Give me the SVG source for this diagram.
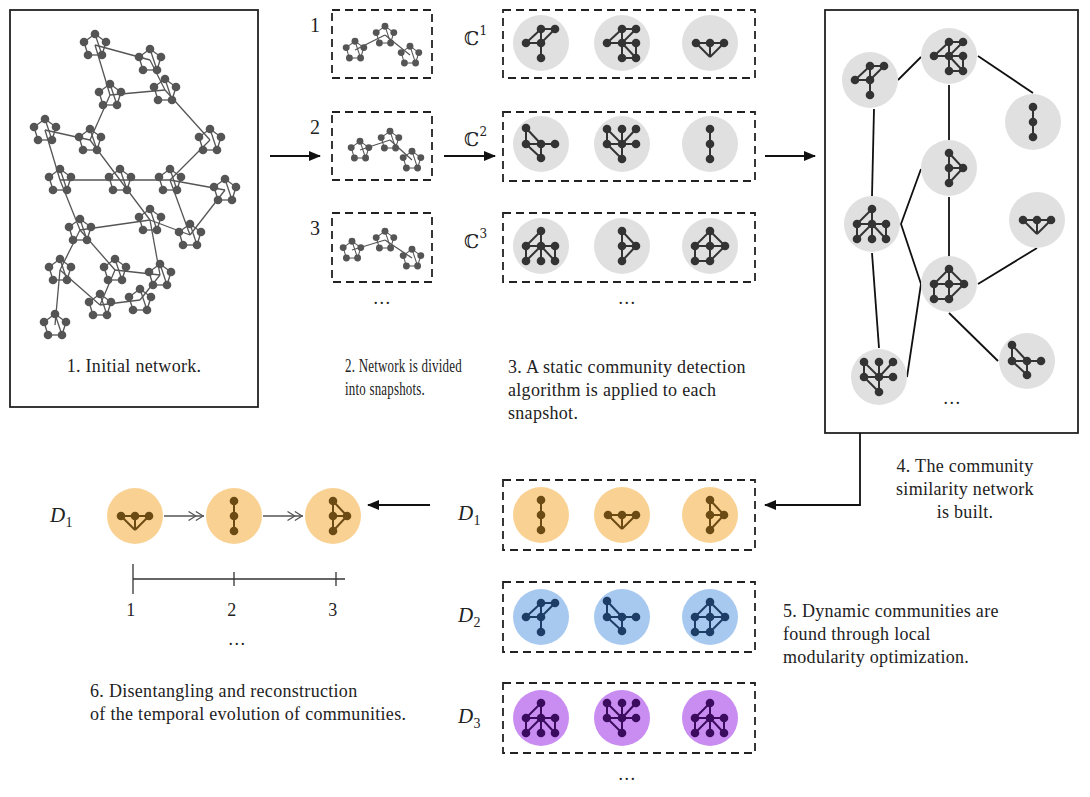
<svg xmlns="http://www.w3.org/2000/svg" xmlns:xlink="http://www.w3.org/1999/xlink" width="1090" height="797" viewBox="0 0 1090 797">
<style>
text{font-family:"Liberation Serif",serif;font-size:18px;letter-spacing:0.3px;fill:#222}
.lab{font-size:21px;font-style:italic}
.big{font-size:20px}
.cc{font-family:"DejaVu Serif",serif;font-size:19px}
.box{fill:none;stroke:#222;stroke-width:1.8}
.dash{fill:none;stroke:#222;stroke-width:1.8;stroke-dasharray:8 5}
.ln{stroke:#111;stroke-width:1.8;fill:none}
.m line{stroke:currentColor;stroke-width:2}
.m circle{fill:currentColor}
.net line{stroke:#555;stroke-width:1.3}
.net circle{fill:#555}
.g{fill:#e0e0e0}.o{fill:#f9d293}.b{fill:#a7c9ef}.p{fill:#c98df2}
</style>
<defs>
<marker id="ar" viewBox="0 0 10 10" refX="9" refY="5" markerWidth="7" markerHeight="7" orient="auto"><path d="M0,1 L10,5 L0,9 z" fill="#111"/></marker>
<marker id="dbl" viewBox="0 0 20 10" refX="19" refY="5" markerWidth="14" markerHeight="7" orient="auto"><path d="M2,0 L10,5 L2,10 M10,0 L18,5 L10,10" fill="none" stroke="#555" stroke-width="1.3"/></marker>
<g id="mA" class="m"><line x1="0" y1="-14" x2="14" y2="-14"/><line x1="-15" y1="0" x2="0" y2="-14"/><line x1="0" y1="-14" x2="0" y2="15"/><line x1="-15" y1="0" x2="0" y2="0"/><line x1="0" y1="0" x2="14" y2="-14"/><circle cx="0" cy="-14" r="4.3"/><circle cx="14" cy="-14" r="4.3"/><circle cx="-15" cy="0" r="4.3"/><circle cx="0" cy="0" r="4.3"/><circle cx="0" cy="15" r="4.3"/></g>
<g id="mB" class="m"><line x1="0" y1="-14" x2="14" y2="-14"/><line x1="-15" y1="0" x2="0" y2="-14"/><line x1="-15" y1="0" x2="14" y2="0"/><line x1="0" y1="-14" x2="0" y2="15"/><line x1="0" y1="0" x2="14" y2="-14"/><line x1="0" y1="0" x2="14" y2="15"/><line x1="14" y1="0" x2="14" y2="15"/><line x1="0" y1="15" x2="14" y2="15"/><circle cx="0" cy="-14" r="4.3"/><circle cx="14" cy="-14" r="4.3"/><circle cx="-15" cy="0" r="4.3"/><circle cx="0" cy="0" r="4.3"/><circle cx="14" cy="0" r="4.3"/><circle cx="0" cy="15" r="4.3"/><circle cx="14" cy="15" r="4.3"/></g>
<g id="mC" class="m"><line x1="-14" y1="0" x2="14" y2="0"/><line x1="-14" y1="0" x2="0" y2="14"/><line x1="14" y1="0" x2="0" y2="14"/><line x1="0" y1="0" x2="0" y2="14"/><circle cx="-14" cy="0" r="4.3"/><circle cx="0" cy="0" r="4.3"/><circle cx="14" cy="0" r="4.3"/></g>
<g id="mD" class="m"><line x1="-15" y1="-16" x2="-15" y2="0"/><line x1="-15" y1="-16" x2="0" y2="0"/><line x1="-15" y1="0" x2="14" y2="0"/><line x1="0" y1="0" x2="0" y2="14"/><line x1="-15" y1="0" x2="0" y2="14"/><circle cx="-15" cy="-16" r="4.3"/><circle cx="-15" cy="0" r="4.3"/><circle cx="0" cy="0" r="4.3"/><circle cx="14" cy="0" r="4.3"/><circle cx="0" cy="14" r="4.3"/></g>
<g id="mE" class="m"><line x1="-15" y1="-15" x2="-15" y2="0"/><line x1="-15" y1="-15" x2="0" y2="0"/><line x1="0" y1="-15" x2="0" y2="15"/><line x1="14" y1="-15" x2="0" y2="0"/><line x1="-15" y1="0" x2="14" y2="0"/><line x1="-15" y1="0" x2="0" y2="15"/><circle cx="-15" cy="-15" r="4.3"/><circle cx="0" cy="-15" r="4.3"/><circle cx="14" cy="-15" r="4.3"/><circle cx="-15" cy="0" r="4.3"/><circle cx="0" cy="0" r="4.3"/><circle cx="14" cy="0" r="4.3"/><circle cx="0" cy="15" r="4.3"/></g>
<g id="mF" class="m"><line x1="0" y1="-15" x2="0" y2="15"/><circle cx="0" cy="-15" r="4.3"/><circle cx="0" cy="0" r="4.3"/><circle cx="0" cy="15" r="4.3"/></g>
<g id="mG" class="m"><line x1="0" y1="-15" x2="-15" y2="0"/><line x1="0" y1="-15" x2="0" y2="15"/><line x1="-15" y1="0" x2="14" y2="0"/><line x1="-15" y1="0" x2="-15" y2="15"/><line x1="0" y1="0" x2="-15" y2="15"/><line x1="0" y1="0" x2="14" y2="15"/><line x1="14" y1="0" x2="14" y2="15"/><circle cx="0" cy="-15" r="4.3"/><circle cx="-15" cy="0" r="4.3"/><circle cx="0" cy="0" r="4.3"/><circle cx="14" cy="0" r="4.3"/><circle cx="-15" cy="15" r="4.3"/><circle cx="0" cy="15" r="4.3"/><circle cx="14" cy="15" r="4.3"/></g>
<g id="mH" class="m"><line x1="0" y1="-15" x2="0" y2="15"/><line x1="0" y1="-15" x2="14" y2="0"/><line x1="0" y1="0" x2="14" y2="0"/><line x1="0" y1="15" x2="14" y2="0"/><circle cx="0" cy="-15" r="4.3"/><circle cx="0" cy="0" r="4.3"/><circle cx="14" cy="0" r="4.3"/><circle cx="0" cy="15" r="4.3"/></g>
<g id="mI" class="m"><line x1="0" y1="-15" x2="-15" y2="0"/><line x1="0" y1="-15" x2="0" y2="15"/><line x1="0" y1="-15" x2="15" y2="0"/><line x1="-15" y1="0" x2="15" y2="0"/><line x1="-15" y1="0" x2="-15" y2="15"/><line x1="-15" y1="15" x2="0" y2="15"/><line x1="0" y1="15" x2="15" y2="0"/><circle cx="0" cy="-15" r="4.3"/><circle cx="-15" cy="0" r="4.3"/><circle cx="0" cy="0" r="4.3"/><circle cx="15" cy="0" r="4.3"/><circle cx="-15" cy="15" r="4.3"/><circle cx="0" cy="15" r="4.3"/></g>
<g id="k" class="net"><line x1="0" y1="-11" x2="11" y2="-3"/><line x1="11" y1="-3" x2="7" y2="10"/><line x1="7" y1="10" x2="-7" y2="10"/><line x1="-7" y1="10" x2="-11" y2="-3"/><line x1="-11" y1="-3" x2="0" y2="-11"/><line x1="0" y1="-11" x2="7" y2="10"/><circle cx="0" cy="-11" r="4.3"/><circle cx="11" cy="-3" r="4.3"/><circle cx="7" cy="10" r="4.3"/><circle cx="-7" cy="10" r="4.3"/><circle cx="-11" cy="-3" r="4.3"/></g>
</defs>

<g id="step1">
<rect class="box" x="10" y="10" width="248" height="397"/>
<g class="net">
<line x1="95" y1="45" x2="150" y2="60"/><line x1="95" y1="45" x2="110" y2="95"/><line x1="150" y1="60" x2="165" y2="90"/><line x1="110" y1="95" x2="165" y2="90"/><line x1="110" y1="95" x2="90" y2="140"/><line x1="45" y1="130" x2="90" y2="140"/><line x1="165" y1="90" x2="210" y2="140"/><line x1="90" y1="140" x2="120" y2="180"/><line x1="45" y1="130" x2="60" y2="180"/><line x1="60" y1="180" x2="120" y2="180"/><line x1="120" y1="180" x2="170" y2="180"/><line x1="170" y1="180" x2="225" y2="190"/><line x1="210" y1="140" x2="170" y2="180"/><line x1="60" y1="180" x2="80" y2="230"/><line x1="120" y1="180" x2="150" y2="220"/><line x1="170" y1="180" x2="190" y2="235"/><line x1="80" y1="230" x2="150" y2="220"/><line x1="150" y1="220" x2="190" y2="235"/><line x1="80" y1="230" x2="60" y2="270"/><line x1="80" y1="230" x2="115" y2="270"/><line x1="150" y1="220" x2="160" y2="275"/><line x1="115" y1="270" x2="160" y2="275"/><line x1="115" y1="270" x2="100" y2="305"/><line x1="60" y1="270" x2="55" y2="325"/><line x1="100" y1="305" x2="140" y2="300"/><line x1="160" y1="275" x2="140" y2="300"/><line x1="225" y1="190" x2="190" y2="235"/><line x1="60" y1="270" x2="100" y2="305"/>
</g>
<use href="#k" x="95" y="45"/><use href="#k" x="150" y="60"/><use href="#k" x="110" y="95"/><use href="#k" x="165" y="90"/><use href="#k" x="45" y="130"/><use href="#k" x="90" y="140"/><use href="#k" x="210" y="140"/><use href="#k" x="60" y="180"/><use href="#k" x="120" y="180"/><use href="#k" x="170" y="180"/><use href="#k" x="225" y="190"/><use href="#k" x="80" y="230"/><use href="#k" x="150" y="220"/><use href="#k" x="190" y="235"/><use href="#k" x="60" y="270"/><use href="#k" x="115" y="270"/><use href="#k" x="160" y="275"/><use href="#k" x="100" y="305"/><use href="#k" x="55" y="325"/><use href="#k" x="140" y="300"/>
<text x="134" y="372" text-anchor="middle">1. Initial network.</text>
</g>

<g id="step2">
<text x="310" y="32" class="big">1</text><text x="310" y="134" class="big">2</text><text x="310" y="235" class="big">3</text>
<rect class="dash" x="332" y="10" width="100" height="68"/>
<rect class="dash" x="332" y="112" width="100" height="68"/>
<rect class="dash" x="332" y="213" width="100" height="69"/>
<g class="net"><line x1="355" y1="50" x2="385" y2="35"/><line x1="385" y1="35" x2="410" y2="55"/><line x1="360" y1="150" x2="390" y2="140"/><line x1="390" y1="140" x2="412" y2="160"/><line x1="352" y1="250" x2="385" y2="240"/><line x1="385" y1="240" x2="412" y2="258"/></g>
<use href="#k" transform="translate(355,50) scale(0.8)"/><use href="#k" transform="translate(385,35) scale(0.8)"/><use href="#k" transform="translate(410,55) scale(0.8)"/>
<use href="#k" transform="translate(360,150) scale(0.8)"/><use href="#k" transform="translate(390,140) scale(0.8)"/><use href="#k" transform="translate(412,160) scale(0.8)"/>
<use href="#k" transform="translate(352,250) scale(0.8)"/><use href="#k" transform="translate(385,240) scale(0.8)"/><use href="#k" transform="translate(412,258) scale(0.8)"/>
<text x="382" y="304" text-anchor="middle">…</text>
<text x="345" y="372" textLength="117" lengthAdjust="spacingAndGlyphs">2. Network is divided</text><text x="345" y="395" textLength="80" lengthAdjust="spacingAndGlyphs">into snapshots.</text>
</g>

<g id="step3">
<text x="464" y="45" class="cc">ℂ<tspan font-size="12" dy="-10">1</tspan></text>
<text x="464" y="146" class="cc">ℂ<tspan font-size="12" dy="-10">2</tspan></text>
<text x="464" y="248" class="cc">ℂ<tspan font-size="12" dy="-10">3</tspan></text>
<rect class="dash" x="503" y="10" width="252" height="68"/>
<rect class="dash" x="503" y="112" width="252" height="69"/>
<rect class="dash" x="503" y="213" width="252" height="69"/>
<circle class="g" cx="541" cy="43" r="28"/><circle class="g" cx="622" cy="43" r="28"/><circle class="g" cx="710" cy="43" r="28"/>
<circle class="g" cx="541" cy="144" r="28"/><circle class="g" cx="622" cy="144" r="28"/><circle class="g" cx="710" cy="144" r="28"/>
<circle class="g" cx="541" cy="246" r="28"/><circle class="g" cx="622" cy="246" r="28"/><circle class="g" cx="710" cy="246" r="28"/>
<g color="#333">
<use href="#mA" x="541" y="43"/><use href="#mB" x="622" y="43"/><use href="#mC" x="710" y="43"/>
<use href="#mD" x="541" y="144"/><use href="#mE" x="622" y="144"/><use href="#mF" x="710" y="144"/>
<use href="#mG" x="541" y="246"/><use href="#mH" x="622" y="246"/><use href="#mI" x="710" y="246"/>
</g>
<text x="627" y="304" text-anchor="middle">…</text>
<text x="508" y="373">3. A static community detection</text><text x="508" y="396">algorithm is applied to each</text><text x="508" y="419">snapshot.</text>
</g>

<g id="step4">
<rect class="box" x="825" y="10" width="253" height="423"/>
<g class="ln"><line x1="898" y1="80" x2="921" y2="57"/><line x1="978" y1="56" x2="1033" y2="93"/><line x1="949" y1="85" x2="949" y2="140"/><line x1="874" y1="109" x2="872" y2="196"/><line x1="949" y1="197" x2="949" y2="257"/><polyline points="921,169 901,224 921,284 907,377"/><line x1="872" y1="253" x2="879" y2="348"/><line x1="1037" y1="248" x2="978" y2="284"/><line x1="949" y1="313" x2="998" y2="361"/></g>
<circle class="g" cx="870" cy="80" r="28"/><circle class="g" cx="949" cy="56" r="28"/><circle class="g" cx="1033" cy="122" r="28"/><circle class="g" cx="949" cy="168" r="28"/><circle class="g" cx="872" cy="224" r="28"/><circle class="g" cx="1037" cy="220" r="28"/><circle class="g" cx="949" cy="284" r="28"/><circle class="g" cx="879" cy="377" r="28"/><circle class="g" cx="1027" cy="361" r="28"/>
<g color="#333"><use href="#mA" x="870" y="80"/><use href="#mB" x="949" y="56"/><use href="#mF" x="1033" y="122"/><use href="#mH" x="949" y="168"/><use href="#mG" x="872" y="224"/><use href="#mC" x="1037" y="220"/><use href="#mI" x="949" y="284"/><use href="#mE" x="879" y="377"/><use href="#mD" x="1027" y="361"/></g>
<text x="952" y="404" text-anchor="middle">…</text>
<text x="965" y="472" text-anchor="middle">4. The community</text><text x="965" y="495" text-anchor="middle">similarity network</text><text x="965" y="518" text-anchor="middle">is built.</text>
</g>

<g id="step5">
<text x="458" y="520" class="lab">D<tspan font-size="14" font-style="normal" dy="5">1</tspan></text>
<text x="458" y="622" class="lab">D<tspan font-size="14" font-style="normal" dy="5">2</tspan></text>
<text x="458" y="723" class="lab">D<tspan font-size="14" font-style="normal" dy="5">3</tspan></text>
<rect class="dash" x="503" y="480" width="252" height="70"/>
<rect class="dash" x="503" y="582" width="252" height="70"/>
<rect class="dash" x="503" y="683" width="252" height="70"/>
<circle class="o" cx="541" cy="515" r="28"/><circle class="o" cx="622" cy="515" r="28"/><circle class="o" cx="710" cy="515" r="28"/>
<circle class="b" cx="541" cy="617" r="28"/><circle class="b" cx="622" cy="617" r="28"/><circle class="b" cx="710" cy="617" r="28"/>
<circle class="p" cx="541" cy="718" r="28"/><circle class="p" cx="622" cy="718" r="28"/><circle class="p" cx="710" cy="718" r="28"/>
<g color="#6b4a14"><use href="#mF" x="541" y="515"/><use href="#mC" x="622" y="515"/><use href="#mH" x="710" y="515"/></g>
<g color="#1d3d66"><use href="#mA" x="541" y="617"/><use href="#mD" x="622" y="617"/><use href="#mI" x="710" y="617"/></g>
<g color="#3b0b5e"><use href="#mG" x="541" y="718"/><use href="#mE" x="622" y="718"/><use href="#mG" x="710" y="718"/></g>
<text x="627" y="780" text-anchor="middle">…</text>
<text x="783" y="617">5. Dynamic communities are</text><text x="783" y="640">found through local</text><text x="783" y="663">modularity optimization.</text>
</g>

<g id="step6">
<text x="50" y="522" class="lab">D<tspan font-size="14" font-style="normal" dy="5">1</tspan></text>
<circle class="o" cx="135" cy="516" r="28"/><circle class="o" cx="234" cy="516" r="28"/><circle class="o" cx="333" cy="516" r="28"/>
<g color="#6b4a14"><use href="#mC" x="135" y="516"/><use href="#mF" x="234" y="516"/><use href="#mH" x="333" y="516"/></g>
<g class="ln" style="stroke:#333;stroke-width:1.3"><line x1="133" y1="564" x2="133" y2="594"/><line x1="133" y1="579" x2="345" y2="579"/><line x1="234" y1="572" x2="234" y2="586"/><line x1="336" y1="572" x2="336" y2="586"/></g>
<text x="131" y="616" text-anchor="middle">1</text><text x="232" y="616" text-anchor="middle">2</text><text x="333" y="616" text-anchor="middle">3</text>
<text x="237" y="645" text-anchor="middle">…</text>
<text x="90" y="697">6. Disentangling and reconstruction</text><text x="90" y="720">of the temporal evolution of communities.</text>
</g>

<g id="connectors" class="ln">
<line x1="270" y1="156" x2="320" y2="156" marker-end="url(#ar)"/>
<line x1="444" y1="156" x2="495" y2="156" marker-end="url(#ar)"/>
<line x1="765" y1="156" x2="815" y2="156" marker-end="url(#ar)"/>
<polyline points="860,433 860,505 765,505" marker-end="url(#ar)"/>
<line x1="430" y1="505" x2="368" y2="505" marker-end="url(#ar)"/>
<line x1="164" y1="516" x2="204" y2="516" style="stroke:#555;stroke-width:1.3" marker-end="url(#dbl)"/>
<line x1="263" y1="516" x2="303" y2="516" style="stroke:#555;stroke-width:1.3" marker-end="url(#dbl)"/>
</g>
</svg>
